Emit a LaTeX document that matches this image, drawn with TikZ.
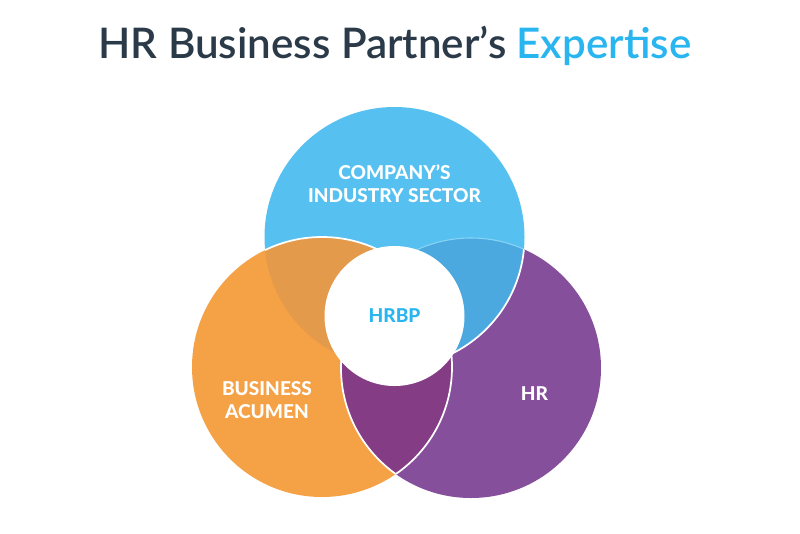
\documentclass[tikz,border=0pt]{standalone}
\usepackage{fontspec}
\setmainfont{Lato}
\newfontfamily\titlefont{Lato Semibold}
\newfontfamily\labelfont{Lato Heavy}
\usepackage{xcolor}
\usetikzlibrary{positioning}
\definecolor{skyblue}{HTML}{56C1F1}
\definecolor{amber}{HTML}{F5A145}
\definecolor{plum}{HTML}{864F9B}
\definecolor{skyplum}{HTML}{4BA9E0}
\definecolor{skyamber}{HTML}{E39A4B}
\definecolor{amberplum}{HTML}{843C85}
\definecolor{slate}{HTML}{2B3A48}
\definecolor{accent}{HTML}{29B6F0}
\newcommand{\rvenn}{97.5pt}
\tikzset{
  vennbox/.style={circle, minimum size=195pt, inner sep=0pt},
  venntext/.style={align=center, text=white, font=\fontsize{14.3}{17.25}\selectfont\labelfont},
  seam/.style={white, line width=1.3pt},
  faint/.style={line width=0.8pt},
}
\begin{document}
\begin{tikzpicture}[x=0.75pt, y=-0.75pt]
  \useasboundingbox[fill=white] (0,0) rectangle (800,533);

  % Three circles
  \node[vennbox, fill=skyblue] (sector) at (394.5,237) {};
  \node[vennbox, fill=plum] (hr) at (471,368) {};
  \node[vennbox, fill=amber] (acumen) at (322,367) {};

  % Overlaps
  \begin{scope}
    \clip (sector.center) circle (\rvenn);
    \fill[skyplum] (hr.center) circle (\rvenn);
    \draw[faint, skyblue!70!white] (hr.center) circle (\rvenn);
  \end{scope}
  \begin{scope}
    \clip (sector.center) circle (\rvenn);
    \fill[skyamber] (acumen.center) circle (\rvenn);
  \end{scope}
  \begin{scope}
    \clip (acumen.center) circle (\rvenn);
    \fill[amberplum] (hr.center) circle (\rvenn);
    \draw[seam] (hr.center) circle (\rvenn);
  \end{scope}

  % White seams
  \begin{scope}
    \clip (sector.center) circle (\rvenn);
    \draw[seam] (acumen.center) circle (\rvenn);
  \end{scope}
  \begin{scope}
    \clip (hr.center) circle (\rvenn);
    \draw[seam] (acumen.center) circle (\rvenn);
    \draw[seam] (sector.center) circle (\rvenn);
  \end{scope}

  % Middle circle
  \node[circle, fill=white, minimum size=105pt, inner sep=0pt] (hrbp) at (394.5,316) {};

  % Labels
  \node[venntext] (sectortext) at (394.5,183.5) {COMPANY’S\\INDUSTRY SECTOR};
  \node[venntext] (acumentext) at (267,400) {BUSINESS\\ACUMEN};
  \node[venntext] (hrtext) at (534.5,393.5) {HR};
  \node[venntext, text=accent] (hrbptext) at (hrbp.center) {HRBP};

  % Title
  \node[font=\fontsize{31.6}{36}\selectfont\titlefont, text=slate] (title) at (395,46) {HR Business Partner’s \textcolor{accent}{Expertise}};
\end{tikzpicture}
\end{document}
